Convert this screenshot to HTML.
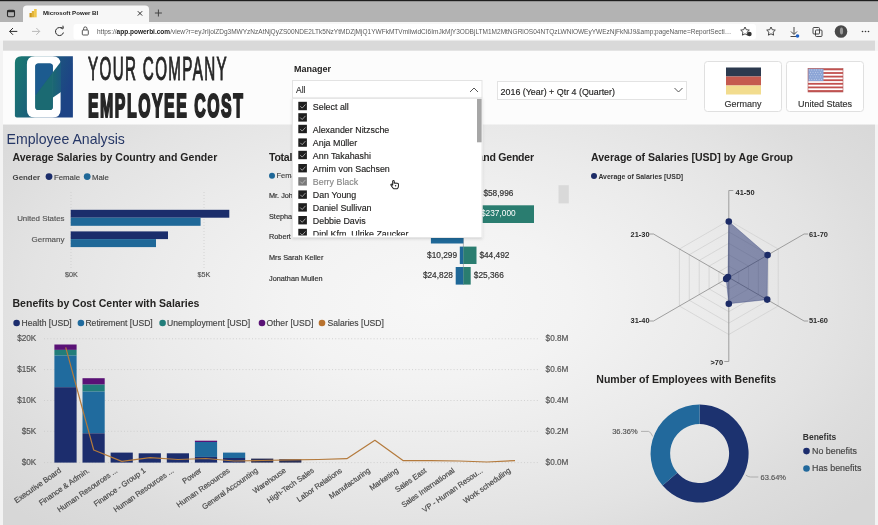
<!DOCTYPE html>
<html><head><meta charset="utf-8">
<style>
html,body{margin:0;padding:0;width:878px;height:525px;overflow:hidden;background:#fff;}
svg{display:block;}
text{font-family:"Liberation Sans",Arial,sans-serif;}
.t{font-weight:bold;fill:#252423;}
</style></head>
<body>
<svg width="878" height="525" viewBox="0 0 878 525">
<defs>
  <radialGradient id="bg" cx="430" cy="300" r="564" gradientUnits="userSpaceOnUse" gradientTransform="translate(430 300) scale(1 0.553) translate(-430 -300)">
    <stop offset="0" stop-color="#f7f7f7"/>
    <stop offset="0.25" stop-color="#f3f3f3"/>
    <stop offset="0.5" stop-color="#ebebeb"/>
    <stop offset="0.71" stop-color="#e3e3e3"/>
    <stop offset="0.83" stop-color="#dddddd"/>
    <stop offset="1" stop-color="#d7d7d7"/>
  </radialGradient>
  <linearGradient id="logoG" x1="0" y1="0" x2="1" y2="0.3">
    <stop offset="0" stop-color="#1a7a70"/>
    <stop offset="1" stop-color="#1d4385"/>
  </linearGradient>
  <linearGradient id="logoI" x1="0" y1="0" x2="1" y2="1">
    <stop offset="0" stop-color="#1b5f93"/>
    <stop offset="1" stop-color="#1a6d6e"/>
  </linearGradient>
  <linearGradient id="logoS" x1="0" y1="0" x2="1" y2="0">
    <stop offset="0" stop-color="#1b6872"/>
    <stop offset="1" stop-color="#1c5a80"/>
  </linearGradient>
  <filter id="sh" x="-10%" y="-10%" width="120%" height="130%">
    <feDropShadow dx="0" dy="1" stdDeviation="1.5" flood-color="#000" flood-opacity="0.14"/>
  </filter>
</defs>

<!-- ===== browser chrome ===== -->
<rect x="0" y="0" width="878" height="41" fill="#f7f7f7"/>
<rect x="0" y="0" width="878" height="22" fill="#b3b3b3"/>
<rect x="0" y="0" width="878" height="1.2" fill="#1e1e1e"/>
<path d="M23 22 V9 Q23 5.5 27 5.5 H145 Q149 5.5 149 9 V22 Z" fill="#f7f7f7"/>
<!-- tab actions icon -->
<rect x="7.5" y="10.2" width="7" height="6.6" rx="1.2" fill="none" stroke="#2a2a2a" stroke-width="1.1"/>
<rect x="7.5" y="10.2" width="7" height="2" fill="#2a2a2a"/>
<!-- favicon -->
<g>
  <rect x="29.5" y="13" width="2.4" height="4.3" fill="#c9961e"/>
  <rect x="31.8" y="11" width="2.4" height="6.3" fill="#e3b53a"/>
  <rect x="34.1" y="9" width="2.6" height="8.3" fill="#f0c64a"/>
</g>
<text x="43" y="15.4" font-size="6.1" font-weight="bold" fill="#202020">Microsoft Power BI</text>
<path d="M137.8 11.2 L142.2 15.6 M142.2 11.2 L137.8 15.6" stroke="#333" stroke-width="1"/>
<path d="M158.4 9.5 V16.5 M154.9 13 H161.9" stroke="#444" stroke-width="1"/>
<!-- nav -->
<path d="M17.3 31.4 H9.6 M13 28 L9.6 31.4 L13 34.8" fill="none" stroke="#2a2a2a" stroke-width="1"/>
<path d="M32 31.4 H39.7 M36.3 28 L39.7 31.4 L36.3 34.8" fill="none" stroke="#b9b9b9" stroke-width="1"/>
<path d="M62.6 29 A4 4 0 1 0 63.4 32.5" fill="none" stroke="#2a2a2a" stroke-width="1"/>
<path d="M60.6 27.6 L63.3 28.3 L62.9 25.7" fill="none" stroke="#2a2a2a" stroke-width="1"/>
<rect x="73.5" y="24" width="682.5" height="15.5" rx="3" fill="#ffffff"/>
<!-- lock -->
<rect x="82.3" y="30" width="6" height="5" rx="0.8" fill="none" stroke="#444" stroke-width="0.9"/>
<path d="M83.6 30 V28.6 A1.7 1.7 0 0 1 87 28.6 V30" fill="none" stroke="#444" stroke-width="0.9"/>
<text x="97" y="33.9" font-size="6.52" fill="#5a5a5a">https://<tspan fill="#1a1a1a" font-weight="bold">app.powerbi.com</tspan>/view?r=eyJrIjoiZDg3MWYzNzAtNjQyZS00NDE2LTk5NzYtMDZjMjQ1YWFkMTVmIiwidCI6ImJkMjY3ODBjLTM1M2MtNGRlOS04NTQzLWNlOWEyYWEzNjFkNiJ9&amp;amp;pageName=ReportSecti…</text>
<!-- right toolbar icons -->
<g fill="none" stroke="#333" stroke-width="0.9">
  <path d="M745 27 l1.3 2.7 3 .4 -2.2 2.1 .5 3 -2.6 -1.4 -2.6 1.4 .5 -3 -2.2 -2.1 3 -.4z"/>
  <path d="M771 27 l1.3 2.7 3 .4 -2.2 2.1 .5 3 -2.6 -1.4 -2.6 1.4 .5 -3 -2.2 -2.1 3 -.4z"/>
  <path d="M794 27 V34 M791 31.5 L794 34.5 L797 31.5 M790.5 36.5 H797"/>
  <rect x="813" y="27.5" width="6.5" height="6.5" rx="1"/>
  <rect x="815.5" y="30" width="6.5" height="6.5" rx="1"/>
</g>
<circle cx="749.5" cy="34" r="2.2" fill="#333"/>
<circle cx="797.5" cy="36" r="1.8" fill="#1e62c9"/>
<circle cx="841" cy="31.5" r="6.3" fill="#4a4a4a"/>
<ellipse cx="841.5" cy="31" rx="1.6" ry="3.6" fill="#9a9a9a"/>
<g fill="#333"><circle cx="862.5" cy="31.5" r="0.8"/><circle cx="865.5" cy="31.5" r="0.8"/><circle cx="868.5" cy="31.5" r="0.8"/></g>

<!-- ===== page ===== -->
<rect x="0" y="40.5" width="878" height="484.5" fill="#f3f3f3"/>
<rect x="3" y="40.6" width="872" height="10.2" fill="#d9d9d9"/>
<rect x="3" y="50.8" width="875" height="73.8" fill="#fcfcfc"/>
<rect x="3" y="124.6" width="872" height="400.4" fill="url(#bg)"/>

<!-- ===== header ===== -->
<g id="logo">
  <path d="M14.9 62.7 Q14.9 56.2 21.4 56.2 H72.9 V117.4 H16.9 Q14.9 117.4 14.9 115.4 Z" fill="url(#logoG)"/>
  <path d="M34.9 56.2 H52.6 Q60.6 56.2 60.6 64.2 V109.4 Q60.6 117.4 52.6 117.4 H34.9 Q26.9 117.4 26.9 109.4 V64.2 Q26.9 56.2 34.9 56.2 Z M38.3 63.4 Q35.3 63.4 35.3 66.4 V107 Q35.3 110 38.3 110 H49.8 Q52.8 110 52.8 107 V66.4 Q52.8 63.4 49.8 63.4 Z" fill="#ffffff" fill-rule="evenodd"/>
  <path d="M35.3 66.4 Q35.3 63.4 38.3 63.4 H49.8 Q52.8 63.4 52.8 66.4 V72.4 L35.3 95.7 Z" fill="#1c5b8f"/>
  <path d="M35.3 95.7 L52.8 72.4 V107 Q52.8 110 49.8 110 H38.3 Q35.3 110 35.3 107 Z" fill="#1b6a72"/>
  <path d="M52.6 72.6 L61 61.5 V92 L52.6 97.8 Z" fill="url(#logoS)"/>
</g>
<text x="88" y="80" font-size="33" fill="#262626" stroke="#262626" stroke-width="1.1" letter-spacing="2.95" transform="translate(88 80) scale(0.46 1) translate(-88 -80)">YOUR COMPANY</text>
<text x="88" y="117.5" font-size="33" font-weight="bold" fill="#262626" stroke="#262626" stroke-width="2.2" letter-spacing="3.2" transform="translate(88 117.5) scale(0.48 1) translate(-88 -117.5)">EMPLOYEE COST</text>

<!-- manager slicer label -->
<text x="294" y="71.8" font-size="9" font-weight="bold" fill="#252423">Manager</text>
<rect x="292.5" y="80.5" width="189.5" height="17.5" fill="#fff" stroke="#e3e3e3" stroke-width="1"/>
<text x="296" y="93" font-size="8.5" fill="#333" stroke="#333" stroke-width="0.15">All</text>
<path d="M470 92 L474 88 L478 92" fill="none" stroke="#444" stroke-width="0.9"/>

<!-- period slicer -->
<rect x="497.5" y="81.5" width="189" height="18" fill="#fff" stroke="#e3e3e3" stroke-width="1"/>
<text x="500.6" y="95.3" font-size="8.9" fill="#252423" stroke="#252423" stroke-width="0.15">2016 (Year) + Qtr 4 (Quarter)</text>
<path d="M674.5 88 L678.5 92 L682.5 88" fill="none" stroke="#444" stroke-width="0.9"/>

<!-- flag buttons -->
<rect x="704.5" y="61.5" width="77" height="50" rx="3" fill="#fff" stroke="#e0e0e0" stroke-width="1"/>
<rect x="786.5" y="61.5" width="77" height="50" rx="3" fill="#fff" stroke="#e0e0e0" stroke-width="1"/>
<rect x="726" y="67.5" width="35" height="9" fill="#2c3a4f"/>
<rect x="726" y="76.5" width="35" height="9" fill="#c55a4f"/>
<rect x="726" y="85.5" width="35" height="9" fill="#f2dc8e"/>
<g>
  <rect x="808" y="68.5" width="35" height="23.5" fill="#fff"/>
  <g fill="#c2514f">
    <rect x="808" y="68.5" width="35" height="1.8"/>
    <rect x="808" y="72.1" width="35" height="1.8"/>
    <rect x="808" y="75.7" width="35" height="1.8"/>
    <rect x="808" y="79.3" width="35" height="1.8"/>
    <rect x="808" y="82.9" width="35" height="1.8"/>
    <rect x="808" y="86.5" width="35" height="1.8"/>
    <rect x="808" y="90.1" width="35" height="1.9"/>
  </g>
  <rect x="808" y="68.5" width="15.5" height="12.6" fill="#8ca5d6"/><g fill="#e8eef8"><circle cx="809.3" cy="70.0" r="0.45"/><circle cx="811.8" cy="70.0" r="0.45"/><circle cx="814.2" cy="70.0" r="0.45"/><circle cx="816.6" cy="70.0" r="0.45"/><circle cx="819.1" cy="70.0" r="0.45"/><circle cx="821.5" cy="70.0" r="0.45"/><circle cx="810.5" cy="72.3" r="0.45"/><circle cx="813.0" cy="72.3" r="0.45"/><circle cx="815.4" cy="72.3" r="0.45"/><circle cx="817.9" cy="72.3" r="0.45"/><circle cx="820.3" cy="72.3" r="0.45"/><circle cx="809.3" cy="74.6" r="0.45"/><circle cx="811.8" cy="74.6" r="0.45"/><circle cx="814.2" cy="74.6" r="0.45"/><circle cx="816.6" cy="74.6" r="0.45"/><circle cx="819.1" cy="74.6" r="0.45"/><circle cx="821.5" cy="74.6" r="0.45"/><circle cx="810.5" cy="76.9" r="0.45"/><circle cx="813.0" cy="76.9" r="0.45"/><circle cx="815.4" cy="76.9" r="0.45"/><circle cx="817.9" cy="76.9" r="0.45"/><circle cx="820.3" cy="76.9" r="0.45"/><circle cx="809.3" cy="79.2" r="0.45"/><circle cx="811.8" cy="79.2" r="0.45"/><circle cx="814.2" cy="79.2" r="0.45"/><circle cx="816.6" cy="79.2" r="0.45"/><circle cx="819.1" cy="79.2" r="0.45"/><circle cx="821.5" cy="79.2" r="0.45"/></g>
  <rect x="808" y="68.5" width="35" height="23.5" fill="none" stroke="#b25c5a" stroke-width="0.6"/>
</g>
<text x="743" y="107" font-size="9" fill="#333" text-anchor="middle" stroke="#333" stroke-width="0.15">Germany</text>
<text x="825" y="107" font-size="9" fill="#333" text-anchor="middle" stroke="#333" stroke-width="0.15">United States</text>

<!-- ===== Employee Analysis ===== -->
<text x="6.6" y="143.9" font-size="14.1" fill="#263766">Employee Analysis</text>

<!-- chart 1 -->
<text x="12.5" y="160.8" font-size="10.55" class="t">Average Salaries by Country and Gender</text>
<text x="12.5" y="179.6" font-size="7.9" font-weight="bold" fill="#444">Gender</text>
<circle cx="49" cy="176.6" r="3.4" fill="#1b2d6b"/>
<text x="54" y="179.6" font-size="7.8" fill="#444" stroke="#444" stroke-width="0.15">Female</text>
<circle cx="87.2" cy="176.6" r="3.4" fill="#1f6898"/>
<text x="92" y="179.6" font-size="7.8" fill="#444" stroke="#444" stroke-width="0.15">Male</text>
<g stroke="#c8c8c8" stroke-width="0.7" stroke-dasharray="1 2">
  <line x1="71" y1="192" x2="71" y2="268"/>
  <line x1="204" y1="192" x2="204" y2="268"/>
</g>
<rect x="70.7" y="209.8" width="158.6" height="7.9" fill="#1b2d6b"/>
<rect x="70.7" y="217.7" width="129.9" height="8.1" fill="#1f6898"/>
<rect x="70.7" y="231.4" width="97.3" height="7.7" fill="#1b2d6b"/>
<rect x="70.7" y="239.1" width="85.3" height="8" fill="#1f6898"/>
<text x="64.5" y="221" font-size="7.9" fill="#555" text-anchor="end" stroke="#555" stroke-width="0.15">United States</text>
<text x="64.5" y="242.3" font-size="8" fill="#555" text-anchor="end" stroke="#555" stroke-width="0.15">Germany</text>
<text x="71.5" y="277.2" font-size="7.2" fill="#555" text-anchor="middle" stroke="#555" stroke-width="0.15">$0K</text>
<text x="204" y="277.2" font-size="7.2" fill="#555" text-anchor="middle" stroke="#555" stroke-width="0.15">$5K</text>

<!-- chart 2 -->
<text x="269" y="160.8" font-size="10.55" class="t" textLength="265" lengthAdjust="spacing">Total Salaries [USD] by Manager, Employee and Gender</text>
<circle cx="272" cy="175.7" r="3" fill="#1f6898"/>
<text x="276.5" y="178.4" font-size="7.5" fill="#444" stroke="#444" stroke-width="0.15">Female</text>
<circle cx="306" cy="175.7" r="3" fill="#2a7d70"/>
<text x="310.5" y="178.4" font-size="7.5" fill="#444" stroke="#444" stroke-width="0.15">Male</text>
<g font-size="7.3" fill="#333" stroke="#333" stroke-width="0.18">
<text x="269" y="198.2">Mr. John Smith</text>
<text x="269" y="219.3">Stephan Hopkins</text>
<text x="269" y="239.2">Robert</text>
<text x="269" y="260.1">Mrs Sarah Keller</text>
<text x="269" y="280.6">Jonathan Mullen</text>
</g>
<line x1="463.4" y1="184" x2="463.4" y2="285" stroke="#8a8a8a" stroke-width="0.6"/>
<rect x="440" y="186" width="23.4" height="17.6" fill="#1f6898"/>
<rect x="463.4" y="205.3" width="70.6" height="17.7" fill="#2a7d70"/>
<rect x="430.9" y="225.9" width="32.5" height="17.6" fill="#1f6898"/>
<rect x="459.8" y="246.6" width="3.6" height="17.4" fill="#1f6898"/>
<rect x="463.4" y="246.6" width="13.1" height="17.4" fill="#2a7d70"/>
<rect x="455.7" y="267" width="7.7" height="17.6" fill="#1f6898"/>
<rect x="463.4" y="267" width="7.3" height="17.6" fill="#2a7d70"/>
<g font-size="8.3" fill="#333" stroke="#333" stroke-width="0.18">
<text x="483.4" y="196.1">$58,996</text>
<text x="457.1" y="257.7" text-anchor="end">$10,299</text>
<text x="479.4" y="257.7">$44,492</text>
<text x="452.9" y="278" text-anchor="end">$24,828</text>
<text x="473.8" y="278">$25,366</text>
</g>
<text x="481" y="216" font-size="8.3" fill="#fff">$237,000</text>
<rect x="558.5" y="185.2" width="10.3" height="18.2" fill="#d9d9d9"/>

<!-- chart 3 radar -->
<text x="591" y="160.8" font-size="10.55" class="t">Average of Salaries [USD] by Age Group</text>
<circle cx="594" cy="176" r="3" fill="#1c2b66"/>
<text x="598.4" y="178.6" font-size="6.9" font-weight="bold" fill="#333">Average of Salaries [USD]</text>
<polygon points="728.8,266.1 738.7,271.8 738.7,283.2 728.8,288.9 718.9,283.2 718.9,271.8" fill="none" stroke="#cfcfcf" stroke-width="0.7"/>
<polygon points="728.8,254.7 748.5,266.1 748.5,288.9 728.8,300.3 709.1,288.9 709.1,266.1" fill="none" stroke="#cfcfcf" stroke-width="0.7"/>
<polygon points="728.8,243.3 758.4,260.4 758.4,294.6 728.8,311.7 699.2,294.6 699.2,260.4" fill="none" stroke="#cfcfcf" stroke-width="0.7"/>
<polygon points="728.8,231.9 768.3,254.7 768.3,300.3 728.8,323.1 689.3,300.3 689.3,254.7" fill="none" stroke="#cfcfcf" stroke-width="0.7"/>
<polygon points="728.8,220.5 778.2,249.0 778.2,306.0 728.8,334.5 679.4,306.0 679.4,249.0" fill="none" stroke="#cfcfcf" stroke-width="0.7"/>
<path d="M728.8 277.5 V190.5 h4.5" fill="none" stroke="#8a8a8a" stroke-width="0.8"/>
<path d="M728.8 277.5 V361.5 h-4.5" fill="none" stroke="#8a8a8a" stroke-width="0.8"/>
<path d="M728.8 277.5 L804.1 234.0 h4.0" fill="none" stroke="#8a8a8a" stroke-width="0.8"/>
<path d="M728.8 277.5 L804.1 321.0 h4.0" fill="none" stroke="#8a8a8a" stroke-width="0.8"/>
<path d="M728.8 277.5 L653.5 234.0 h-4.0" fill="none" stroke="#8a8a8a" stroke-width="0.8"/>
<path d="M728.8 277.5 L653.5 321.0 h-4.0" fill="none" stroke="#8a8a8a" stroke-width="0.8"/>
<polygon points="728.8,221.5 767.6,255.1 767.2,299.6 728.8,303.7 726.2,278.9 728.0,277.0" fill="#1f2e6e" fill-opacity="0.5" stroke="#1f2e6e" stroke-opacity="0.5" stroke-width="0.6"/>
<circle cx="728.8" cy="221.5" r="3.3" fill="#1c2b66"/><circle cx="767.6" cy="255.1" r="3.3" fill="#1c2b66"/><circle cx="767.2" cy="299.6" r="3.3" fill="#1c2b66"/><circle cx="728.8" cy="303.7" r="3.3" fill="#1c2b66"/><circle cx="726.2" cy="278.9" r="3.3" fill="#1c2b66"/><circle cx="728.0" cy="277.0" r="3.3" fill="#1c2b66"/>
<g font-size="7.4" font-weight="bold" fill="#2a2a2a">
<text x="735.6" y="195.3">41-50</text>
<text x="809" y="237.2">61-70</text>
<text x="809" y="322.6">51-60</text>
<text x="723" y="365.3" text-anchor="end">&gt;70</text>
<text x="649.5" y="237.2" text-anchor="end">21-30</text>
<text x="649.5" y="322.6" text-anchor="end">31-40</text>
</g>

<!-- chart 4 benefits -->
<text x="12.5" y="307.0" font-size="10.55" class="t">Benefits by Cost Center with Salaries</text>
<circle cx="16.6" cy="323" r="3.3" fill="#1c2d6d"/><text x="21.6" y="326.1" font-size="8.6" fill="#444" stroke="#444" stroke-width="0.15">Health [USD]</text>
<circle cx="80.9" cy="323" r="3.3" fill="#206b9e"/><text x="85.4" y="326.1" font-size="8.6" fill="#444" stroke="#444" stroke-width="0.15">Retirement [USD]</text>
<circle cx="162.6" cy="323" r="3.3" fill="#227d7a"/><text x="167.0" y="326.1" font-size="8.6" fill="#444" stroke="#444" stroke-width="0.15">Unemployment [USD]</text>
<circle cx="262.0" cy="323" r="3.3" fill="#5a1276"/><text x="266.5" y="326.1" font-size="8.6" fill="#444" stroke="#444" stroke-width="0.15">Other [USD]</text>
<circle cx="322.0" cy="323" r="3.3" fill="#b8722e"/><text x="327.6" y="326.1" font-size="8.6" fill="#444" stroke="#444" stroke-width="0.15">Salaries [USD]</text>
<g stroke="#c9c9c9" stroke-width="0.8" stroke-dasharray="1 2.2">
<line x1="44" y1="338.75" x2="540" y2="338.75"/>
<line x1="44" y1="369.60" x2="540" y2="369.60"/>
<line x1="44" y1="400.50" x2="540" y2="400.50"/>
<line x1="44" y1="431.30" x2="540" y2="431.30"/>
<line x1="44" y1="462.60" x2="540" y2="462.60"/>
</g>
<g font-size="8.2" fill="#555" stroke="#555" stroke-width="0.18">
<text x="36.3" y="341.45" text-anchor="end">$20K</text>
<text x="36.3" y="372.30" text-anchor="end">$15K</text>
<text x="36.3" y="403.20" text-anchor="end">$10K</text>
<text x="36.3" y="434.00" text-anchor="end">$5K</text>
<text x="36.3" y="465.30" text-anchor="end">$0K</text>
<text x="545.6" y="341.45">$0.8M</text>
<text x="545.6" y="372.30">$0.6M</text>
<text x="545.6" y="403.20">$0.4M</text>
<text x="545.6" y="434.00">$0.2M</text>
<text x="545.6" y="465.30">$0.0M</text>
</g>
<rect x="54.4" y="344.5" width="22.2" height="5.4" fill="#5a1276"/><rect x="54.4" y="349.9" width="22.2" height="5.7" fill="#227d7a"/><rect x="54.4" y="355.6" width="22.2" height="31.6" fill="#206b9e"/><rect x="54.4" y="387.2" width="22.2" height="75.4" fill="#1c2d6d"/>
<rect x="82.5" y="378.2" width="22.2" height="6.4" fill="#5a1276"/><rect x="82.5" y="384.6" width="22.2" height="7.0" fill="#227d7a"/><rect x="82.5" y="391.6" width="22.2" height="41.7" fill="#206b9e"/><rect x="82.5" y="433.3" width="22.2" height="29.3" fill="#1c2d6d"/>
<rect x="110.6" y="452.6" width="22.2" height="10.0" fill="#1c2d6d"/>
<rect x="138.7" y="453.3" width="22.2" height="9.3" fill="#1c2d6d"/>
<rect x="166.8" y="453.3" width="22.2" height="9.3" fill="#1c2d6d"/>
<rect x="194.9" y="440.7" width="22.2" height="1.3" fill="#5a1276"/><rect x="194.9" y="442.0" width="22.2" height="14.9" fill="#206b9e"/><rect x="194.9" y="456.9" width="22.2" height="5.7" fill="#1c2d6d"/>
<rect x="223.0" y="452.6" width="22.2" height="5.4" fill="#206b9e"/><rect x="223.0" y="458.0" width="22.2" height="4.6" fill="#1c2d6d"/>
<rect x="251.1" y="458.6" width="22.2" height="4.0" fill="#2a2f55"/>
<rect x="279.2" y="459.2" width="22.2" height="3.4" fill="#2a2f55"/>

<polyline points="65.7,347.3 93.7,450.0 121.8,461.4 150.0,457.7 178.0,459.5 206.0,458.5 234.0,461.0 262.0,460.5 290.6,459.8 318.7,459.5 346.8,458.7 374.9,440.3 403.0,460.6 431.0,460.6 459.0,461.0 487.0,462.0 515.0,460.6" fill="none" stroke="#b47a3c" stroke-width="1.2" stroke-linejoin="round"/>
<g font-size="7.6" fill="#4a4a4a" stroke="#4a4a4a" stroke-width="0.18">
<text x="61.8" y="471.7" text-anchor="end" transform="rotate(-35 61.8 471.7)">Executive Board</text>
<text x="89.9" y="471.7" text-anchor="end" transform="rotate(-35 89.9 471.7)">Finance &amp; Admin.</text>
<text x="118.0" y="471.7" text-anchor="end" transform="rotate(-35 118.0 471.7)">Human Resources ...</text>
<text x="146.1" y="471.7" text-anchor="end" transform="rotate(-35 146.1 471.7)">Finance - Group 1</text>
<text x="174.2" y="471.7" text-anchor="end" transform="rotate(-35 174.2 471.7)">Human Resources ...</text>
<text x="202.2" y="471.7" text-anchor="end" transform="rotate(-35 202.2 471.7)">Power</text>
<text x="230.4" y="471.7" text-anchor="end" transform="rotate(-35 230.4 471.7)">Human Resources</text>
<text x="258.5" y="471.7" text-anchor="end" transform="rotate(-35 258.5 471.7)">General Accounting</text>
<text x="286.6" y="471.7" text-anchor="end" transform="rotate(-35 286.6 471.7)">Warehouse</text>
<text x="314.6" y="471.7" text-anchor="end" transform="rotate(-35 314.6 471.7)">High-Tech Sales</text>
<text x="342.7" y="471.7" text-anchor="end" transform="rotate(-35 342.7 471.7)">Labor Relations</text>
<text x="370.8" y="471.7" text-anchor="end" transform="rotate(-35 370.8 471.7)">Manufacturing</text>
<text x="399.0" y="471.7" text-anchor="end" transform="rotate(-35 399.0 471.7)">Marketing</text>
<text x="427.1" y="471.7" text-anchor="end" transform="rotate(-35 427.1 471.7)">Sales East</text>
<text x="455.2" y="471.7" text-anchor="end" transform="rotate(-35 455.2 471.7)">Sales International</text>
<text x="483.2" y="471.7" text-anchor="end" transform="rotate(-35 483.2 471.7)">VP - Human Resou...</text>
<text x="511.3" y="471.7" text-anchor="end" transform="rotate(-35 511.3 471.7)">Work scheduling</text>
</g>

<!-- chart 5 donut -->
<text x="596.3" y="383.2" font-size="10.55" class="t">Number of Employees with Benefits</text>
<path d="M699.60 404.50 A49.0 49.0 0 1 1 662.56 485.58 L677.30 472.81 A29.5 29.5 0 1 0 699.60 424.00 Z" fill="#1c326f"/>
<path d="M662.56 485.58 A49.0 49.0 0 0 1 699.60 404.50 L699.60 424.00 A29.5 29.5 0 0 0 677.30 472.81 Z" fill="#22699c"/>
<path d="M641 431.4 H648.5 Q650.5 431.4 652.8 436.5" fill="none" stroke="#999" stroke-width="0.7"/>
<path d="M745.8 475 Q748 477 750.5 477 H758.3" fill="none" stroke="#999" stroke-width="0.7"/>
<text x="637.6" y="434.4" font-size="7.5" fill="#555" text-anchor="end" stroke="#555" stroke-width="0.15">36.36%</text>
<text x="760.6" y="480" font-size="7.5" fill="#555" stroke="#555" stroke-width="0.15">63.64%</text>
<text x="802.8" y="439.6" font-size="8.5" font-weight="bold" fill="#333">Benefits</text>
<circle cx="806.5" cy="451.1" r="3.3" fill="#1c2d6d"/>
<text x="812" y="453.9" font-size="8.9" fill="#444" stroke="#444" stroke-width="0.15">No benefits</text>
<circle cx="806.5" cy="468.5" r="3.3" fill="#22699c"/>
<text x="812" y="471.4" font-size="8.9" fill="#444" stroke="#444" stroke-width="0.15">Has benefits</text>

<!-- ===== manager dropdown overlay ===== -->
<g filter="url(#sh)">
<rect x="292" y="98" width="190.4" height="140" fill="#ffffff"/>
</g>
<rect x="292.5" y="98.5" width="189.5" height="139" fill="none" stroke="#e6e6e6" stroke-width="1"/>
<clipPath id="ddclip"><rect x="292" y="99" width="190" height="136.5"/></clipPath>
<g clip-path="url(#ddclip)">
<rect x="298.3" y="101.8" width="8.6" height="8.4" fill="#1f1f1f"/><path d="M300.3 106.2 l1.9 1.9 l3.2 -3.6" fill="none" stroke="#c8c8c8" stroke-width="0.75"/><text x="312.8" y="109.6" font-size="8.9" fill="#252423" stroke="#252423" stroke-width="0.15">Select all</text>
<rect x="298.3" y="113.2" width="8.6" height="8.4" fill="#1f1f1f"/><path d="M300.3 117.6 l1.9 1.9 l3.2 -3.6" fill="none" stroke="#c8c8c8" stroke-width="0.75"/>
<rect x="298.3" y="124.8" width="8.6" height="8.4" fill="#1f1f1f"/><path d="M300.3 129.2 l1.9 1.9 l3.2 -3.6" fill="none" stroke="#c8c8c8" stroke-width="0.75"/><text x="312.8" y="132.6" font-size="8.9" fill="#252423" stroke="#252423" stroke-width="0.15">Alexander Nitzsche</text>
<rect x="298.3" y="138.4" width="8.6" height="8.4" fill="#1f1f1f"/><path d="M300.3 142.8 l1.9 1.9 l3.2 -3.6" fill="none" stroke="#c8c8c8" stroke-width="0.75"/><text x="312.8" y="146.2" font-size="8.9" fill="#252423" stroke="#252423" stroke-width="0.15">Anja Müller</text>
<rect x="298.3" y="150.8" width="8.6" height="8.4" fill="#1f1f1f"/><path d="M300.3 155.2 l1.9 1.9 l3.2 -3.6" fill="none" stroke="#c8c8c8" stroke-width="0.75"/><text x="312.8" y="158.6" font-size="8.9" fill="#252423" stroke="#252423" stroke-width="0.15">Ann Takahashi</text>
<rect x="298.3" y="164.0" width="8.6" height="8.4" fill="#1f1f1f"/><path d="M300.3 168.4 l1.9 1.9 l3.2 -3.6" fill="none" stroke="#c8c8c8" stroke-width="0.75"/><text x="312.8" y="171.8" font-size="8.9" fill="#252423" stroke="#252423" stroke-width="0.15">Arnim von Sachsen</text>
<rect x="298.3" y="177.2" width="8.6" height="8.4" fill="#7a7a7a"/><path d="M300.3 181.6 l1.9 1.9 l3.2 -3.6" fill="none" stroke="#c8c8c8" stroke-width="0.75"/><text x="312.8" y="185.0" font-size="8.9" fill="#888" stroke="#888" stroke-width="0.15">Berry Black</text>
<rect x="298.3" y="190.4" width="8.6" height="8.4" fill="#1f1f1f"/><path d="M300.3 194.8 l1.9 1.9 l3.2 -3.6" fill="none" stroke="#c8c8c8" stroke-width="0.75"/><text x="312.8" y="198.2" font-size="8.9" fill="#252423" stroke="#252423" stroke-width="0.15">Dan Young</text>
<rect x="298.3" y="203.2" width="8.6" height="8.4" fill="#1f1f1f"/><path d="M300.3 207.6 l1.9 1.9 l3.2 -3.6" fill="none" stroke="#c8c8c8" stroke-width="0.75"/><text x="312.8" y="211.0" font-size="8.9" fill="#252423" stroke="#252423" stroke-width="0.15">Daniel Sullivan</text>
<rect x="298.3" y="216.0" width="8.6" height="8.4" fill="#1f1f1f"/><path d="M300.3 220.4 l1.9 1.9 l3.2 -3.6" fill="none" stroke="#c8c8c8" stroke-width="0.75"/><text x="312.8" y="223.8" font-size="8.9" fill="#252423" stroke="#252423" stroke-width="0.15">Debbie Davis</text>
<rect x="298.3" y="228.8" width="8.6" height="8.4" fill="#1f1f1f"/><path d="M300.3 233.2 l1.9 1.9 l3.2 -3.6" fill="none" stroke="#c8c8c8" stroke-width="0.75"/><text x="312.8" y="236.6" font-size="8.9" fill="#252423" stroke="#252423" stroke-width="0.15">Dipl.Kfm. Ulrike Zaucker</text>
</g>
<rect x="477" y="99" width="4.6" height="43.3" fill="#a6a6a6"/>
<!-- hand cursor -->
<g transform="translate(390.8 179.3) scale(0.85)">
  <path d="M2.2 1.8 Q3.2 1.2 4 1.8 V4.6 Q4.8 4.1 5.6 4.6 Q6.4 4.2 7.2 4.8 Q8.1 4.5 9 5.3 V8.2 Q9 10.4 7.4 11.2 H3.6 Q2.4 10.4 1.2 8.4 L0.1 6.6 Q-0.1 5.6 0.9 5.6 L2.2 6.9 Z" fill="#fff" stroke="#222" stroke-width="1.2" stroke-linejoin="round"/>
  <circle cx="5.6" cy="7.6" r="0.9" fill="#222"/>
</g>

</svg>
</body></html>
